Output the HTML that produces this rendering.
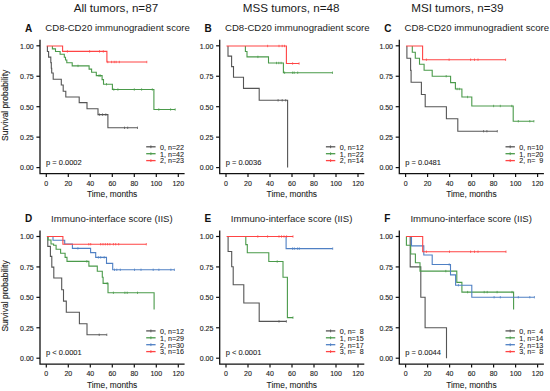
<!DOCTYPE html>
<html><head><meta charset="utf-8"><style>
html,body{margin:0;padding:0;background:#fff;width:550px;height:391px;overflow:hidden}
svg{display:block;font-family:"Liberation Sans", sans-serif}
</style></head><body>
<svg width="550" height="391" viewBox="0 0 550 391">
<rect width="550" height="391" fill="#fff"/>
<text x="115.90" y="11.80" font-size="11.65" text-anchor="middle" font-weight="normal" fill="#1a1a1a" >All tumors, n=87</text>
<text x="291.10" y="11.80" font-size="11.65" text-anchor="middle" font-weight="normal" fill="#1a1a1a" >MSS tumors, n=48</text>
<text x="457.30" y="11.80" font-size="11.65" text-anchor="middle" font-weight="normal" fill="#1a1a1a" >MSI tumors, n=39</text>
<text x="24.90" y="31.60" font-size="10" text-anchor="start" font-weight="bold" fill="#111" >A</text>
<text x="45.30" y="30.90" font-size="9.6" text-anchor="start" font-weight="normal" fill="#222" >CD8-CD20 immunogradient score</text>
<polyline points="47.40,46.00 47.40,51.50 48.60,51.50 48.60,57.10 50.80,57.10 50.80,62.60 51.30,62.60 51.30,68.20 51.70,68.20 51.70,73.00 53.20,73.00 53.20,79.20 61.30,79.20 61.30,85.00 63.20,85.00 63.20,91.30 65.80,91.30 65.80,97.00 79.20,97.00 79.20,102.60 87.00,102.60 87.00,108.70 98.00,108.70 98.00,114.60 107.90,114.60 107.90,127.80 137.50,127.80" fill="none" stroke="#555555" stroke-width="1.1"/>
<line x1="99.40" y1="113.40" x2="99.40" y2="115.80" stroke="#555555" stroke-width="0.75"/>
<line x1="102.50" y1="113.40" x2="102.50" y2="115.80" stroke="#555555" stroke-width="0.75"/>
<line x1="105.80" y1="113.40" x2="105.80" y2="115.80" stroke="#555555" stroke-width="0.75"/>
<line x1="124.50" y1="126.60" x2="124.50" y2="129.00" stroke="#555555" stroke-width="0.75"/>
<line x1="127.70" y1="126.60" x2="127.70" y2="129.00" stroke="#555555" stroke-width="0.75"/>
<line x1="137.50" y1="126.60" x2="137.50" y2="129.00" stroke="#555555" stroke-width="0.75"/>
<polyline points="52.40,46.00 52.40,48.90 55.50,48.90 55.50,51.50 60.10,51.50 60.10,54.30 64.30,54.30 64.30,57.20 65.50,57.20 65.50,60.00 66.80,60.00 66.80,62.80 72.20,62.80 72.20,65.90 89.10,65.90 89.10,69.10 91.60,69.10 91.60,72.20 96.30,72.20 96.30,75.60 102.10,75.60 102.10,79.60 103.50,79.60 103.50,84.20 112.40,84.20 112.40,89.50 153.90,89.50 153.90,109.50 175.20,109.50" fill="none" stroke="#4a9a4a" stroke-width="1.1"/>
<line x1="78.00" y1="64.70" x2="78.00" y2="67.10" stroke="#4a9a4a" stroke-width="0.75"/>
<line x1="99.00" y1="74.40" x2="99.00" y2="76.80" stroke="#4a9a4a" stroke-width="0.75"/>
<line x1="100.30" y1="74.40" x2="100.30" y2="76.80" stroke="#4a9a4a" stroke-width="0.75"/>
<line x1="106.50" y1="83.00" x2="106.50" y2="85.40" stroke="#4a9a4a" stroke-width="0.75"/>
<line x1="113.80" y1="88.30" x2="113.80" y2="90.70" stroke="#4a9a4a" stroke-width="0.75"/>
<line x1="117.90" y1="88.30" x2="117.90" y2="90.70" stroke="#4a9a4a" stroke-width="0.75"/>
<line x1="134.30" y1="88.30" x2="134.30" y2="90.70" stroke="#4a9a4a" stroke-width="0.75"/>
<line x1="141.60" y1="88.30" x2="141.60" y2="90.70" stroke="#4a9a4a" stroke-width="0.75"/>
<line x1="152.30" y1="88.30" x2="152.30" y2="90.70" stroke="#4a9a4a" stroke-width="0.75"/>
<line x1="158.80" y1="108.30" x2="158.80" y2="110.70" stroke="#4a9a4a" stroke-width="0.75"/>
<line x1="170.60" y1="108.30" x2="170.60" y2="110.70" stroke="#4a9a4a" stroke-width="0.75"/>
<line x1="175.20" y1="108.30" x2="175.20" y2="110.70" stroke="#4a9a4a" stroke-width="0.75"/>
<polyline points="46.70,46.00 62.60,46.00 62.60,51.40 106.90,51.40 106.90,62.00 146.80,62.00" fill="none" stroke="#ff4444" stroke-width="1.1"/>
<line x1="67.40" y1="50.20" x2="67.40" y2="52.60" stroke="#ff4444" stroke-width="0.75"/>
<line x1="89.60" y1="50.20" x2="89.60" y2="52.60" stroke="#ff4444" stroke-width="0.75"/>
<line x1="99.50" y1="50.20" x2="99.50" y2="52.60" stroke="#ff4444" stroke-width="0.75"/>
<line x1="103.30" y1="50.20" x2="103.30" y2="52.60" stroke="#ff4444" stroke-width="0.75"/>
<line x1="107.80" y1="60.80" x2="107.80" y2="63.20" stroke="#ff4444" stroke-width="0.75"/>
<line x1="111.60" y1="60.80" x2="111.60" y2="63.20" stroke="#ff4444" stroke-width="0.75"/>
<line x1="114.20" y1="60.80" x2="114.20" y2="63.20" stroke="#ff4444" stroke-width="0.75"/>
<line x1="116.10" y1="60.80" x2="116.10" y2="63.20" stroke="#ff4444" stroke-width="0.75"/>
<line x1="119.30" y1="60.80" x2="119.30" y2="63.20" stroke="#ff4444" stroke-width="0.75"/>
<line x1="146.80" y1="60.80" x2="146.80" y2="63.20" stroke="#ff4444" stroke-width="0.75"/>
<polyline points="40.00,39.80 40.00,173.60 184.60,173.60" fill="none" stroke="#111" stroke-width="1.3"/>
<line x1="36.40" y1="45.80" x2="40.00" y2="45.80" stroke="#111" stroke-width="1.2"/>
<text x="33.70" y="48.60" font-size="7.0" text-anchor="end" font-weight="normal" fill="#222" stroke="#222" stroke-width="0.12">1.00</text>
<line x1="36.40" y1="76.25" x2="40.00" y2="76.25" stroke="#111" stroke-width="1.2"/>
<text x="33.70" y="79.05" font-size="7.0" text-anchor="end" font-weight="normal" fill="#222" stroke="#222" stroke-width="0.12">0.75</text>
<line x1="36.40" y1="106.70" x2="40.00" y2="106.70" stroke="#111" stroke-width="1.2"/>
<text x="33.70" y="109.50" font-size="7.0" text-anchor="end" font-weight="normal" fill="#222" stroke="#222" stroke-width="0.12">0.50</text>
<line x1="36.40" y1="137.15" x2="40.00" y2="137.15" stroke="#111" stroke-width="1.2"/>
<text x="33.70" y="139.95" font-size="7.0" text-anchor="end" font-weight="normal" fill="#222" stroke="#222" stroke-width="0.12">0.25</text>
<line x1="36.40" y1="167.60" x2="40.00" y2="167.60" stroke="#111" stroke-width="1.2"/>
<text x="33.70" y="170.40" font-size="7.0" text-anchor="end" font-weight="normal" fill="#222" stroke="#222" stroke-width="0.12">0.00</text>
<line x1="46.30" y1="173.60" x2="46.30" y2="177.00" stroke="#111" stroke-width="1.2"/>
<text x="46.30" y="185.80" font-size="7.0" text-anchor="middle" font-weight="normal" fill="#222" stroke="#222" stroke-width="0.12">0</text>
<line x1="68.30" y1="173.60" x2="68.30" y2="177.00" stroke="#111" stroke-width="1.2"/>
<text x="68.30" y="185.80" font-size="7.0" text-anchor="middle" font-weight="normal" fill="#222" stroke="#222" stroke-width="0.12">20</text>
<line x1="90.30" y1="173.60" x2="90.30" y2="177.00" stroke="#111" stroke-width="1.2"/>
<text x="90.30" y="185.80" font-size="7.0" text-anchor="middle" font-weight="normal" fill="#222" stroke="#222" stroke-width="0.12">40</text>
<line x1="112.30" y1="173.60" x2="112.30" y2="177.00" stroke="#111" stroke-width="1.2"/>
<text x="112.30" y="185.80" font-size="7.0" text-anchor="middle" font-weight="normal" fill="#222" stroke="#222" stroke-width="0.12">60</text>
<line x1="134.30" y1="173.60" x2="134.30" y2="177.00" stroke="#111" stroke-width="1.2"/>
<text x="134.30" y="185.80" font-size="7.0" text-anchor="middle" font-weight="normal" fill="#222" stroke="#222" stroke-width="0.12">80</text>
<line x1="156.30" y1="173.60" x2="156.30" y2="177.00" stroke="#111" stroke-width="1.2"/>
<text x="156.30" y="185.80" font-size="7.0" text-anchor="middle" font-weight="normal" fill="#222" stroke="#222" stroke-width="0.12">100</text>
<line x1="178.30" y1="173.60" x2="178.30" y2="177.00" stroke="#111" stroke-width="1.2"/>
<text x="178.30" y="185.80" font-size="7.0" text-anchor="middle" font-weight="normal" fill="#222" stroke="#222" stroke-width="0.12">120</text>
<text x="112.10" y="197.30" font-size="8.4" text-anchor="middle" font-weight="normal" fill="#1a1a1a" stroke="#222" stroke-width="0.08">Time, months</text>
<text x="0" y="0" font-size="8.5" text-anchor="middle" fill="#222" stroke="#222" stroke-width="0.12" transform="translate(8.0,105.30) rotate(-90)">Survival probability</text>
<text x="46.00" y="164.80" font-size="7.5" text-anchor="start" font-weight="normal" fill="#222" stroke="#222" stroke-width="0.08">p = 0.0002</text>
<line x1="146.20" y1="146.80" x2="155.60" y2="146.80" stroke="#555555" stroke-width="1.3"/>
<line x1="150.90" y1="145.40" x2="150.90" y2="148.20" stroke="#555555" stroke-width="0.9"/>
<text x="160.00" y="149.60" font-size="7.15" text-anchor="start" font-weight="normal" fill="#222" stroke="#222" stroke-width="0.08">0, n=22</text>
<line x1="146.20" y1="153.70" x2="155.60" y2="153.70" stroke="#4a9a4a" stroke-width="1.3"/>
<line x1="150.90" y1="152.30" x2="150.90" y2="155.10" stroke="#4a9a4a" stroke-width="0.9"/>
<text x="160.00" y="156.50" font-size="7.15" text-anchor="start" font-weight="normal" fill="#222" stroke="#222" stroke-width="0.08">1, n=42</text>
<line x1="146.20" y1="160.60" x2="155.60" y2="160.60" stroke="#ff4444" stroke-width="1.3"/>
<line x1="150.90" y1="159.20" x2="150.90" y2="162.00" stroke="#ff4444" stroke-width="0.9"/>
<text x="160.00" y="163.40" font-size="7.15" text-anchor="start" font-weight="normal" fill="#222" stroke="#222" stroke-width="0.08">2, n=23</text>
<text x="204.60" y="31.60" font-size="10" text-anchor="start" font-weight="bold" fill="#111" >B</text>
<text x="225.00" y="30.90" font-size="9.6" text-anchor="start" font-weight="normal" fill="#222" >CD8-CD20 immunogradient score</text>
<polyline points="228.00,46.00 228.00,56.10 231.60,56.10 231.60,66.60 233.50,66.60 233.50,77.20 243.50,77.20 243.50,88.40 259.20,88.40 259.20,100.30 287.60,100.30 287.60,167.60 287.60,167.60" fill="none" stroke="#555555" stroke-width="1.1"/>
<line x1="278.10" y1="99.10" x2="278.10" y2="101.50" stroke="#555555" stroke-width="0.75"/>
<line x1="282.20" y1="99.10" x2="282.20" y2="101.50" stroke="#555555" stroke-width="0.75"/>
<line x1="285.70" y1="99.10" x2="285.70" y2="101.50" stroke="#555555" stroke-width="0.75"/>
<polyline points="245.40,46.00 245.40,51.50 247.00,51.50 247.00,56.90 268.50,56.90 268.50,63.00 283.40,63.00 283.40,72.70 332.50,72.70" fill="none" stroke="#4a9a4a" stroke-width="1.1"/>
<line x1="257.90" y1="55.70" x2="257.90" y2="58.10" stroke="#4a9a4a" stroke-width="0.75"/>
<line x1="276.50" y1="61.80" x2="276.50" y2="64.20" stroke="#4a9a4a" stroke-width="0.75"/>
<line x1="278.80" y1="61.80" x2="278.80" y2="64.20" stroke="#4a9a4a" stroke-width="0.75"/>
<line x1="281.10" y1="61.80" x2="281.10" y2="64.20" stroke="#4a9a4a" stroke-width="0.75"/>
<line x1="284.60" y1="71.50" x2="284.60" y2="73.90" stroke="#4a9a4a" stroke-width="0.75"/>
<line x1="292.60" y1="71.50" x2="292.60" y2="73.90" stroke="#4a9a4a" stroke-width="0.75"/>
<line x1="294.20" y1="71.50" x2="294.20" y2="73.90" stroke="#4a9a4a" stroke-width="0.75"/>
<line x1="297.70" y1="71.50" x2="297.70" y2="73.90" stroke="#4a9a4a" stroke-width="0.75"/>
<line x1="332.50" y1="71.50" x2="332.50" y2="73.90" stroke="#4a9a4a" stroke-width="0.75"/>
<polyline points="226.50,46.00 286.40,46.00 286.40,63.50 299.10,63.50" fill="none" stroke="#ff4444" stroke-width="1.1"/>
<line x1="267.60" y1="44.80" x2="267.60" y2="47.20" stroke="#ff4444" stroke-width="0.75"/>
<line x1="279.00" y1="44.80" x2="279.00" y2="47.20" stroke="#ff4444" stroke-width="0.75"/>
<line x1="282.20" y1="44.80" x2="282.20" y2="47.20" stroke="#ff4444" stroke-width="0.75"/>
<line x1="284.50" y1="44.80" x2="284.50" y2="47.20" stroke="#ff4444" stroke-width="0.75"/>
<line x1="292.60" y1="62.30" x2="292.60" y2="64.70" stroke="#ff4444" stroke-width="0.75"/>
<line x1="299.10" y1="62.30" x2="299.10" y2="64.70" stroke="#ff4444" stroke-width="0.75"/>
<polyline points="219.70,39.80 219.70,173.60 364.30,173.60" fill="none" stroke="#111" stroke-width="1.3"/>
<line x1="216.10" y1="45.80" x2="219.70" y2="45.80" stroke="#111" stroke-width="1.2"/>
<text x="213.40" y="48.60" font-size="7.0" text-anchor="end" font-weight="normal" fill="#222" stroke="#222" stroke-width="0.12">1.00</text>
<line x1="216.10" y1="76.25" x2="219.70" y2="76.25" stroke="#111" stroke-width="1.2"/>
<text x="213.40" y="79.05" font-size="7.0" text-anchor="end" font-weight="normal" fill="#222" stroke="#222" stroke-width="0.12">0.75</text>
<line x1="216.10" y1="106.70" x2="219.70" y2="106.70" stroke="#111" stroke-width="1.2"/>
<text x="213.40" y="109.50" font-size="7.0" text-anchor="end" font-weight="normal" fill="#222" stroke="#222" stroke-width="0.12">0.50</text>
<line x1="216.10" y1="137.15" x2="219.70" y2="137.15" stroke="#111" stroke-width="1.2"/>
<text x="213.40" y="139.95" font-size="7.0" text-anchor="end" font-weight="normal" fill="#222" stroke="#222" stroke-width="0.12">0.25</text>
<line x1="216.10" y1="167.60" x2="219.70" y2="167.60" stroke="#111" stroke-width="1.2"/>
<text x="213.40" y="170.40" font-size="7.0" text-anchor="end" font-weight="normal" fill="#222" stroke="#222" stroke-width="0.12">0.00</text>
<line x1="226.00" y1="173.60" x2="226.00" y2="177.00" stroke="#111" stroke-width="1.2"/>
<text x="226.00" y="185.80" font-size="7.0" text-anchor="middle" font-weight="normal" fill="#222" stroke="#222" stroke-width="0.12">0</text>
<line x1="248.00" y1="173.60" x2="248.00" y2="177.00" stroke="#111" stroke-width="1.2"/>
<text x="248.00" y="185.80" font-size="7.0" text-anchor="middle" font-weight="normal" fill="#222" stroke="#222" stroke-width="0.12">20</text>
<line x1="270.00" y1="173.60" x2="270.00" y2="177.00" stroke="#111" stroke-width="1.2"/>
<text x="270.00" y="185.80" font-size="7.0" text-anchor="middle" font-weight="normal" fill="#222" stroke="#222" stroke-width="0.12">40</text>
<line x1="292.00" y1="173.60" x2="292.00" y2="177.00" stroke="#111" stroke-width="1.2"/>
<text x="292.00" y="185.80" font-size="7.0" text-anchor="middle" font-weight="normal" fill="#222" stroke="#222" stroke-width="0.12">60</text>
<line x1="314.00" y1="173.60" x2="314.00" y2="177.00" stroke="#111" stroke-width="1.2"/>
<text x="314.00" y="185.80" font-size="7.0" text-anchor="middle" font-weight="normal" fill="#222" stroke="#222" stroke-width="0.12">80</text>
<line x1="336.00" y1="173.60" x2="336.00" y2="177.00" stroke="#111" stroke-width="1.2"/>
<text x="336.00" y="185.80" font-size="7.0" text-anchor="middle" font-weight="normal" fill="#222" stroke="#222" stroke-width="0.12">100</text>
<line x1="358.00" y1="173.60" x2="358.00" y2="177.00" stroke="#111" stroke-width="1.2"/>
<text x="358.00" y="185.80" font-size="7.0" text-anchor="middle" font-weight="normal" fill="#222" stroke="#222" stroke-width="0.12">120</text>
<text x="291.80" y="197.30" font-size="8.4" text-anchor="middle" font-weight="normal" fill="#1a1a1a" stroke="#222" stroke-width="0.08">Time, months</text>
<text x="225.70" y="164.80" font-size="7.5" text-anchor="start" font-weight="normal" fill="#222" stroke="#222" stroke-width="0.08">p = 0.0036</text>
<line x1="325.90" y1="146.80" x2="335.30" y2="146.80" stroke="#555555" stroke-width="1.3"/>
<line x1="330.60" y1="145.40" x2="330.60" y2="148.20" stroke="#555555" stroke-width="0.9"/>
<text x="339.70" y="149.60" font-size="7.15" text-anchor="start" font-weight="normal" fill="#222" stroke="#222" stroke-width="0.08">0, n=12</text>
<line x1="325.90" y1="153.70" x2="335.30" y2="153.70" stroke="#4a9a4a" stroke-width="1.3"/>
<line x1="330.60" y1="152.30" x2="330.60" y2="155.10" stroke="#4a9a4a" stroke-width="0.9"/>
<text x="339.70" y="156.50" font-size="7.15" text-anchor="start" font-weight="normal" fill="#222" stroke="#222" stroke-width="0.08">1, n=22</text>
<line x1="325.90" y1="160.60" x2="335.30" y2="160.60" stroke="#ff4444" stroke-width="1.3"/>
<line x1="330.60" y1="159.20" x2="330.60" y2="162.00" stroke="#ff4444" stroke-width="0.9"/>
<text x="339.70" y="163.40" font-size="7.15" text-anchor="start" font-weight="normal" fill="#222" stroke="#222" stroke-width="0.08">2, n=14</text>
<text x="384.20" y="31.60" font-size="10" text-anchor="start" font-weight="bold" fill="#111" >C</text>
<text x="404.60" y="30.90" font-size="9.6" text-anchor="start" font-weight="normal" fill="#222" >CD8-CD20 immunogradient score</text>
<polyline points="406.90,46.00 406.90,58.30 410.60,58.30 410.60,70.40 411.10,70.40 411.10,82.30 421.40,82.30 421.40,94.50 425.20,94.50 425.20,106.70 446.40,106.70 446.40,118.80 457.80,118.80 457.80,131.20 497.30,131.20" fill="none" stroke="#555555" stroke-width="1.1"/>
<line x1="483.60" y1="130.00" x2="483.60" y2="132.40" stroke="#555555" stroke-width="0.75"/>
<line x1="486.90" y1="130.00" x2="486.90" y2="132.40" stroke="#555555" stroke-width="0.75"/>
<line x1="497.30" y1="130.00" x2="497.30" y2="132.40" stroke="#555555" stroke-width="0.75"/>
<polyline points="412.30,46.00 412.30,52.20 415.30,52.20 415.30,58.20 419.50,58.20 419.50,64.20 424.10,64.20 424.10,70.20 432.20,70.20 432.20,76.20 450.60,76.20 450.60,82.60 455.40,82.60 455.40,89.00 461.90,89.00 461.90,97.00 471.80,97.00 471.80,106.00 513.20,106.00 513.20,121.20 533.90,121.20" fill="none" stroke="#4a9a4a" stroke-width="1.1"/>
<line x1="446.20" y1="75.00" x2="446.20" y2="77.40" stroke="#4a9a4a" stroke-width="0.75"/>
<line x1="457.10" y1="87.80" x2="457.10" y2="90.20" stroke="#4a9a4a" stroke-width="0.75"/>
<line x1="459.30" y1="87.80" x2="459.30" y2="90.20" stroke="#4a9a4a" stroke-width="0.75"/>
<line x1="467.60" y1="95.80" x2="467.60" y2="98.20" stroke="#4a9a4a" stroke-width="0.75"/>
<line x1="493.60" y1="104.80" x2="493.60" y2="107.20" stroke="#4a9a4a" stroke-width="0.75"/>
<line x1="500.30" y1="104.80" x2="500.30" y2="107.20" stroke="#4a9a4a" stroke-width="0.75"/>
<line x1="511.80" y1="104.80" x2="511.80" y2="107.20" stroke="#4a9a4a" stroke-width="0.75"/>
<line x1="518.30" y1="120.00" x2="518.30" y2="122.40" stroke="#4a9a4a" stroke-width="0.75"/>
<line x1="529.80" y1="120.00" x2="529.80" y2="122.40" stroke="#4a9a4a" stroke-width="0.75"/>
<line x1="533.90" y1="120.00" x2="533.90" y2="122.40" stroke="#4a9a4a" stroke-width="0.75"/>
<polyline points="406.10,46.00 422.60,46.00 422.60,59.70 505.60,59.70" fill="none" stroke="#ff4444" stroke-width="1.1"/>
<line x1="426.40" y1="58.50" x2="426.40" y2="60.90" stroke="#ff4444" stroke-width="0.75"/>
<line x1="449.10" y1="58.50" x2="449.10" y2="60.90" stroke="#ff4444" stroke-width="0.75"/>
<line x1="470.60" y1="58.50" x2="470.60" y2="60.90" stroke="#ff4444" stroke-width="0.75"/>
<line x1="474.50" y1="58.50" x2="474.50" y2="60.90" stroke="#ff4444" stroke-width="0.75"/>
<line x1="478.00" y1="58.50" x2="478.00" y2="60.90" stroke="#ff4444" stroke-width="0.75"/>
<line x1="505.60" y1="58.50" x2="505.60" y2="60.90" stroke="#ff4444" stroke-width="0.75"/>
<polyline points="399.30,39.80 399.30,173.60 543.90,173.60" fill="none" stroke="#111" stroke-width="1.3"/>
<line x1="395.70" y1="45.80" x2="399.30" y2="45.80" stroke="#111" stroke-width="1.2"/>
<text x="393.00" y="48.60" font-size="7.0" text-anchor="end" font-weight="normal" fill="#222" stroke="#222" stroke-width="0.12">1.00</text>
<line x1="395.70" y1="76.25" x2="399.30" y2="76.25" stroke="#111" stroke-width="1.2"/>
<text x="393.00" y="79.05" font-size="7.0" text-anchor="end" font-weight="normal" fill="#222" stroke="#222" stroke-width="0.12">0.75</text>
<line x1="395.70" y1="106.70" x2="399.30" y2="106.70" stroke="#111" stroke-width="1.2"/>
<text x="393.00" y="109.50" font-size="7.0" text-anchor="end" font-weight="normal" fill="#222" stroke="#222" stroke-width="0.12">0.50</text>
<line x1="395.70" y1="137.15" x2="399.30" y2="137.15" stroke="#111" stroke-width="1.2"/>
<text x="393.00" y="139.95" font-size="7.0" text-anchor="end" font-weight="normal" fill="#222" stroke="#222" stroke-width="0.12">0.25</text>
<line x1="395.70" y1="167.60" x2="399.30" y2="167.60" stroke="#111" stroke-width="1.2"/>
<text x="393.00" y="170.40" font-size="7.0" text-anchor="end" font-weight="normal" fill="#222" stroke="#222" stroke-width="0.12">0.00</text>
<line x1="405.60" y1="173.60" x2="405.60" y2="177.00" stroke="#111" stroke-width="1.2"/>
<text x="405.60" y="185.80" font-size="7.0" text-anchor="middle" font-weight="normal" fill="#222" stroke="#222" stroke-width="0.12">0</text>
<line x1="427.60" y1="173.60" x2="427.60" y2="177.00" stroke="#111" stroke-width="1.2"/>
<text x="427.60" y="185.80" font-size="7.0" text-anchor="middle" font-weight="normal" fill="#222" stroke="#222" stroke-width="0.12">20</text>
<line x1="449.60" y1="173.60" x2="449.60" y2="177.00" stroke="#111" stroke-width="1.2"/>
<text x="449.60" y="185.80" font-size="7.0" text-anchor="middle" font-weight="normal" fill="#222" stroke="#222" stroke-width="0.12">40</text>
<line x1="471.60" y1="173.60" x2="471.60" y2="177.00" stroke="#111" stroke-width="1.2"/>
<text x="471.60" y="185.80" font-size="7.0" text-anchor="middle" font-weight="normal" fill="#222" stroke="#222" stroke-width="0.12">60</text>
<line x1="493.60" y1="173.60" x2="493.60" y2="177.00" stroke="#111" stroke-width="1.2"/>
<text x="493.60" y="185.80" font-size="7.0" text-anchor="middle" font-weight="normal" fill="#222" stroke="#222" stroke-width="0.12">80</text>
<line x1="515.60" y1="173.60" x2="515.60" y2="177.00" stroke="#111" stroke-width="1.2"/>
<text x="515.60" y="185.80" font-size="7.0" text-anchor="middle" font-weight="normal" fill="#222" stroke="#222" stroke-width="0.12">100</text>
<line x1="537.60" y1="173.60" x2="537.60" y2="177.00" stroke="#111" stroke-width="1.2"/>
<text x="537.60" y="185.80" font-size="7.0" text-anchor="middle" font-weight="normal" fill="#222" stroke="#222" stroke-width="0.12">120</text>
<text x="471.40" y="197.30" font-size="8.4" text-anchor="middle" font-weight="normal" fill="#1a1a1a" stroke="#222" stroke-width="0.08">Time, months</text>
<text x="405.30" y="164.80" font-size="7.5" text-anchor="start" font-weight="normal" fill="#222" stroke="#222" stroke-width="0.08">p = 0.0481</text>
<line x1="505.50" y1="146.80" x2="514.90" y2="146.80" stroke="#555555" stroke-width="1.3"/>
<line x1="510.20" y1="145.40" x2="510.20" y2="148.20" stroke="#555555" stroke-width="0.9"/>
<text x="519.30" y="149.60" font-size="7.15" text-anchor="start" font-weight="normal" fill="#222" stroke="#222" stroke-width="0.08">0, n=10</text>
<line x1="505.50" y1="153.70" x2="514.90" y2="153.70" stroke="#4a9a4a" stroke-width="1.3"/>
<line x1="510.20" y1="152.30" x2="510.20" y2="155.10" stroke="#4a9a4a" stroke-width="0.9"/>
<text x="519.30" y="156.50" font-size="7.15" text-anchor="start" font-weight="normal" fill="#222" stroke="#222" stroke-width="0.08">1, n=20</text>
<line x1="505.50" y1="160.60" x2="514.90" y2="160.60" stroke="#ff4444" stroke-width="1.3"/>
<line x1="510.20" y1="159.20" x2="510.20" y2="162.00" stroke="#ff4444" stroke-width="0.9"/>
<text x="519.30" y="163.40" font-size="7.15" text-anchor="start" font-weight="normal" fill="#222" stroke="#222" stroke-width="0.08">2, n=&#160; 9</text>
<text x="24.90" y="222.30" font-size="10" text-anchor="start" font-weight="bold" fill="#111" >D</text>
<text x="51.10" y="221.60" font-size="9.6" text-anchor="start" font-weight="normal" fill="#222" >Immuno-interface score (IIS)</text>
<polyline points="47.80,236.50 47.80,246.40 50.40,246.40 50.40,256.40 51.80,256.40 51.80,267.10 53.80,267.10 53.80,278.00 61.70,278.00 61.70,289.70 63.50,289.70 63.50,301.10 66.30,301.10 66.30,312.30 79.40,312.30 79.40,323.70 87.00,323.70 87.00,334.80 106.80,334.80" fill="none" stroke="#555555" stroke-width="1.1"/>
<line x1="99.20" y1="333.60" x2="99.20" y2="336.00" stroke="#555555" stroke-width="0.75"/>
<line x1="106.80" y1="333.60" x2="106.80" y2="336.00" stroke="#555555" stroke-width="0.75"/>
<polyline points="48.10,236.50 48.10,240.00 51.00,240.00 51.00,244.00 53.60,244.00 53.60,245.20 56.10,245.20 56.10,249.20 60.60,249.20 60.60,253.30 65.10,253.30 65.10,257.40 67.00,257.40 67.00,261.40 88.90,261.40 88.90,266.10 97.30,266.10 97.30,271.30 102.30,271.30 102.30,277.20 103.10,277.20 103.10,283.40 108.00,283.40 108.00,292.80 154.10,292.80 154.10,309.40 154.10,309.40" fill="none" stroke="#4a9a4a" stroke-width="1.1"/>
<line x1="86.80" y1="260.20" x2="86.80" y2="262.60" stroke="#4a9a4a" stroke-width="0.75"/>
<line x1="107.20" y1="282.20" x2="107.20" y2="284.60" stroke="#4a9a4a" stroke-width="0.75"/>
<line x1="113.40" y1="291.60" x2="113.40" y2="294.00" stroke="#4a9a4a" stroke-width="0.75"/>
<line x1="124.90" y1="291.60" x2="124.90" y2="294.00" stroke="#4a9a4a" stroke-width="0.75"/>
<line x1="127.20" y1="291.60" x2="127.20" y2="294.00" stroke="#4a9a4a" stroke-width="0.75"/>
<line x1="137.50" y1="291.60" x2="137.50" y2="294.00" stroke="#4a9a4a" stroke-width="0.75"/>
<polyline points="53.00,236.50 53.00,240.30 64.70,240.30 64.70,244.00 72.40,244.00 72.40,248.40 90.60,248.40 90.60,252.60 95.70,252.60 95.70,257.40 106.50,257.40 106.50,263.40 112.70,263.40 112.70,269.80 174.40,269.80" fill="none" stroke="#4f80c4" stroke-width="1.1"/>
<line x1="77.90" y1="247.20" x2="77.90" y2="249.60" stroke="#4f80c4" stroke-width="0.75"/>
<line x1="98.40" y1="256.20" x2="98.40" y2="258.60" stroke="#4f80c4" stroke-width="0.75"/>
<line x1="100.70" y1="256.20" x2="100.70" y2="258.60" stroke="#4f80c4" stroke-width="0.75"/>
<line x1="104.20" y1="256.20" x2="104.20" y2="258.60" stroke="#4f80c4" stroke-width="0.75"/>
<line x1="114.50" y1="268.60" x2="114.50" y2="271.00" stroke="#4f80c4" stroke-width="0.75"/>
<line x1="116.80" y1="268.60" x2="116.80" y2="271.00" stroke="#4f80c4" stroke-width="0.75"/>
<line x1="120.30" y1="268.60" x2="120.30" y2="271.00" stroke="#4f80c4" stroke-width="0.75"/>
<line x1="134.50" y1="268.60" x2="134.50" y2="271.00" stroke="#4f80c4" stroke-width="0.75"/>
<line x1="141.00" y1="268.60" x2="141.00" y2="271.00" stroke="#4f80c4" stroke-width="0.75"/>
<line x1="153.20" y1="268.60" x2="153.20" y2="271.00" stroke="#4f80c4" stroke-width="0.75"/>
<line x1="158.90" y1="268.60" x2="158.90" y2="271.00" stroke="#4f80c4" stroke-width="0.75"/>
<line x1="170.90" y1="268.60" x2="170.90" y2="271.00" stroke="#4f80c4" stroke-width="0.75"/>
<line x1="174.40" y1="268.60" x2="174.40" y2="271.00" stroke="#4f80c4" stroke-width="0.75"/>
<polyline points="46.80,236.50 62.90,236.50 62.90,244.20 146.30,244.20" fill="none" stroke="#ff4444" stroke-width="1.1"/>
<line x1="88.80" y1="243.00" x2="88.80" y2="245.40" stroke="#ff4444" stroke-width="0.75"/>
<line x1="90.70" y1="243.00" x2="90.70" y2="245.40" stroke="#ff4444" stroke-width="0.75"/>
<line x1="100.70" y1="243.00" x2="100.70" y2="245.40" stroke="#ff4444" stroke-width="0.75"/>
<line x1="103.00" y1="243.00" x2="103.00" y2="245.40" stroke="#ff4444" stroke-width="0.75"/>
<line x1="105.30" y1="243.00" x2="105.30" y2="245.40" stroke="#ff4444" stroke-width="0.75"/>
<line x1="107.60" y1="243.00" x2="107.60" y2="245.40" stroke="#ff4444" stroke-width="0.75"/>
<line x1="109.90" y1="243.00" x2="109.90" y2="245.40" stroke="#ff4444" stroke-width="0.75"/>
<line x1="113.40" y1="243.00" x2="113.40" y2="245.40" stroke="#ff4444" stroke-width="0.75"/>
<line x1="115.70" y1="243.00" x2="115.70" y2="245.40" stroke="#ff4444" stroke-width="0.75"/>
<line x1="118.70" y1="243.00" x2="118.70" y2="245.40" stroke="#ff4444" stroke-width="0.75"/>
<line x1="146.30" y1="243.00" x2="146.30" y2="245.40" stroke="#ff4444" stroke-width="0.75"/>
<polyline points="40.00,230.50 40.00,364.20 184.60,364.20" fill="none" stroke="#111" stroke-width="1.3"/>
<line x1="36.40" y1="236.50" x2="40.00" y2="236.50" stroke="#111" stroke-width="1.2"/>
<text x="33.70" y="239.30" font-size="7.0" text-anchor="end" font-weight="normal" fill="#222" stroke="#222" stroke-width="0.12">1.00</text>
<line x1="36.40" y1="266.93" x2="40.00" y2="266.93" stroke="#111" stroke-width="1.2"/>
<text x="33.70" y="269.73" font-size="7.0" text-anchor="end" font-weight="normal" fill="#222" stroke="#222" stroke-width="0.12">0.75</text>
<line x1="36.40" y1="297.35" x2="40.00" y2="297.35" stroke="#111" stroke-width="1.2"/>
<text x="33.70" y="300.15" font-size="7.0" text-anchor="end" font-weight="normal" fill="#222" stroke="#222" stroke-width="0.12">0.50</text>
<line x1="36.40" y1="327.77" x2="40.00" y2="327.77" stroke="#111" stroke-width="1.2"/>
<text x="33.70" y="330.57" font-size="7.0" text-anchor="end" font-weight="normal" fill="#222" stroke="#222" stroke-width="0.12">0.25</text>
<line x1="36.40" y1="358.20" x2="40.00" y2="358.20" stroke="#111" stroke-width="1.2"/>
<text x="33.70" y="361.00" font-size="7.0" text-anchor="end" font-weight="normal" fill="#222" stroke="#222" stroke-width="0.12">0.00</text>
<line x1="46.30" y1="364.20" x2="46.30" y2="367.60" stroke="#111" stroke-width="1.2"/>
<text x="46.30" y="376.40" font-size="7.0" text-anchor="middle" font-weight="normal" fill="#222" stroke="#222" stroke-width="0.12">0</text>
<line x1="68.30" y1="364.20" x2="68.30" y2="367.60" stroke="#111" stroke-width="1.2"/>
<text x="68.30" y="376.40" font-size="7.0" text-anchor="middle" font-weight="normal" fill="#222" stroke="#222" stroke-width="0.12">20</text>
<line x1="90.30" y1="364.20" x2="90.30" y2="367.60" stroke="#111" stroke-width="1.2"/>
<text x="90.30" y="376.40" font-size="7.0" text-anchor="middle" font-weight="normal" fill="#222" stroke="#222" stroke-width="0.12">40</text>
<line x1="112.30" y1="364.20" x2="112.30" y2="367.60" stroke="#111" stroke-width="1.2"/>
<text x="112.30" y="376.40" font-size="7.0" text-anchor="middle" font-weight="normal" fill="#222" stroke="#222" stroke-width="0.12">60</text>
<line x1="134.30" y1="364.20" x2="134.30" y2="367.60" stroke="#111" stroke-width="1.2"/>
<text x="134.30" y="376.40" font-size="7.0" text-anchor="middle" font-weight="normal" fill="#222" stroke="#222" stroke-width="0.12">80</text>
<line x1="156.30" y1="364.20" x2="156.30" y2="367.60" stroke="#111" stroke-width="1.2"/>
<text x="156.30" y="376.40" font-size="7.0" text-anchor="middle" font-weight="normal" fill="#222" stroke="#222" stroke-width="0.12">100</text>
<line x1="178.30" y1="364.20" x2="178.30" y2="367.60" stroke="#111" stroke-width="1.2"/>
<text x="178.30" y="376.40" font-size="7.0" text-anchor="middle" font-weight="normal" fill="#222" stroke="#222" stroke-width="0.12">120</text>
<text x="112.10" y="387.90" font-size="8.4" text-anchor="middle" font-weight="normal" fill="#1a1a1a" stroke="#222" stroke-width="0.08">Time, months</text>
<text x="0" y="0" font-size="8.5" text-anchor="middle" fill="#222" stroke="#222" stroke-width="0.12" transform="translate(8.0,295.95) rotate(-90)">Survival probability</text>
<text x="46.00" y="355.40" font-size="7.5" text-anchor="start" font-weight="normal" fill="#222" stroke="#222" stroke-width="0.08">p &lt; 0.0001</text>
<line x1="146.20" y1="330.90" x2="155.60" y2="330.90" stroke="#555555" stroke-width="1.3"/>
<line x1="150.90" y1="329.50" x2="150.90" y2="332.30" stroke="#555555" stroke-width="0.9"/>
<text x="160.00" y="333.70" font-size="7.15" text-anchor="start" font-weight="normal" fill="#222" stroke="#222" stroke-width="0.08">0, n=12</text>
<line x1="146.20" y1="337.80" x2="155.60" y2="337.80" stroke="#4a9a4a" stroke-width="1.3"/>
<line x1="150.90" y1="336.40" x2="150.90" y2="339.20" stroke="#4a9a4a" stroke-width="0.9"/>
<text x="160.00" y="340.60" font-size="7.15" text-anchor="start" font-weight="normal" fill="#222" stroke="#222" stroke-width="0.08">1, n=29</text>
<line x1="146.20" y1="344.70" x2="155.60" y2="344.70" stroke="#4f80c4" stroke-width="1.3"/>
<line x1="150.90" y1="343.30" x2="150.90" y2="346.10" stroke="#4f80c4" stroke-width="0.9"/>
<text x="160.00" y="347.50" font-size="7.15" text-anchor="start" font-weight="normal" fill="#222" stroke="#222" stroke-width="0.08">2, n=30</text>
<line x1="146.20" y1="351.60" x2="155.60" y2="351.60" stroke="#ff4444" stroke-width="1.3"/>
<line x1="150.90" y1="350.20" x2="150.90" y2="353.00" stroke="#ff4444" stroke-width="0.9"/>
<text x="160.00" y="354.40" font-size="7.15" text-anchor="start" font-weight="normal" fill="#222" stroke="#222" stroke-width="0.08">3, n=16</text>
<text x="204.60" y="222.30" font-size="10" text-anchor="start" font-weight="bold" fill="#111" >E</text>
<text x="230.80" y="221.60" font-size="9.6" text-anchor="start" font-weight="normal" fill="#222" >Immuno-interface score (IIS)</text>
<polyline points="228.10,236.50 228.10,251.50 231.70,251.50 231.70,266.80 233.20,266.80 233.20,284.70 243.80,284.70 243.80,303.00 259.20,303.00 259.20,321.40 286.40,321.40" fill="none" stroke="#555555" stroke-width="1.1"/>
<line x1="279.00" y1="320.20" x2="279.00" y2="322.60" stroke="#555555" stroke-width="0.75"/>
<line x1="286.40" y1="320.20" x2="286.40" y2="322.60" stroke="#555555" stroke-width="0.75"/>
<polyline points="245.80,236.50 245.80,244.60 247.30,244.60 247.30,252.80 268.80,252.80 268.80,261.50 283.00,261.50 283.00,277.30 287.40,277.30 287.40,317.60 293.00,317.60" fill="none" stroke="#4a9a4a" stroke-width="1.1"/>
<line x1="277.20" y1="260.30" x2="277.20" y2="262.70" stroke="#4a9a4a" stroke-width="0.75"/>
<line x1="293.00" y1="316.40" x2="293.00" y2="318.80" stroke="#4a9a4a" stroke-width="0.75"/>
<polyline points="286.10,236.50 286.10,248.60 332.70,248.60" fill="none" stroke="#4f80c4" stroke-width="1.1"/>
<line x1="292.50" y1="247.40" x2="292.50" y2="249.80" stroke="#4f80c4" stroke-width="0.75"/>
<line x1="294.30" y1="247.40" x2="294.30" y2="249.80" stroke="#4f80c4" stroke-width="0.75"/>
<line x1="297.60" y1="247.40" x2="297.60" y2="249.80" stroke="#4f80c4" stroke-width="0.75"/>
<line x1="299.40" y1="247.40" x2="299.40" y2="249.80" stroke="#4f80c4" stroke-width="0.75"/>
<line x1="332.70" y1="247.40" x2="332.70" y2="249.80" stroke="#4f80c4" stroke-width="0.75"/>
<polyline points="226.60,236.50 293.00,236.50" fill="none" stroke="#ff4444" stroke-width="1.1"/>
<line x1="257.80" y1="235.30" x2="257.80" y2="237.70" stroke="#ff4444" stroke-width="0.75"/>
<line x1="267.60" y1="235.30" x2="267.60" y2="237.70" stroke="#ff4444" stroke-width="0.75"/>
<line x1="279.00" y1="235.30" x2="279.00" y2="237.70" stroke="#ff4444" stroke-width="0.75"/>
<line x1="281.50" y1="235.30" x2="281.50" y2="237.70" stroke="#ff4444" stroke-width="0.75"/>
<line x1="284.00" y1="235.30" x2="284.00" y2="237.70" stroke="#ff4444" stroke-width="0.75"/>
<line x1="286.60" y1="235.30" x2="286.60" y2="237.70" stroke="#ff4444" stroke-width="0.75"/>
<line x1="293.00" y1="235.30" x2="293.00" y2="237.70" stroke="#ff4444" stroke-width="0.75"/>
<polyline points="219.70,230.50 219.70,364.20 364.30,364.20" fill="none" stroke="#111" stroke-width="1.3"/>
<line x1="216.10" y1="236.50" x2="219.70" y2="236.50" stroke="#111" stroke-width="1.2"/>
<text x="213.40" y="239.30" font-size="7.0" text-anchor="end" font-weight="normal" fill="#222" stroke="#222" stroke-width="0.12">1.00</text>
<line x1="216.10" y1="266.93" x2="219.70" y2="266.93" stroke="#111" stroke-width="1.2"/>
<text x="213.40" y="269.73" font-size="7.0" text-anchor="end" font-weight="normal" fill="#222" stroke="#222" stroke-width="0.12">0.75</text>
<line x1="216.10" y1="297.35" x2="219.70" y2="297.35" stroke="#111" stroke-width="1.2"/>
<text x="213.40" y="300.15" font-size="7.0" text-anchor="end" font-weight="normal" fill="#222" stroke="#222" stroke-width="0.12">0.50</text>
<line x1="216.10" y1="327.77" x2="219.70" y2="327.77" stroke="#111" stroke-width="1.2"/>
<text x="213.40" y="330.57" font-size="7.0" text-anchor="end" font-weight="normal" fill="#222" stroke="#222" stroke-width="0.12">0.25</text>
<line x1="216.10" y1="358.20" x2="219.70" y2="358.20" stroke="#111" stroke-width="1.2"/>
<text x="213.40" y="361.00" font-size="7.0" text-anchor="end" font-weight="normal" fill="#222" stroke="#222" stroke-width="0.12">0.00</text>
<line x1="226.00" y1="364.20" x2="226.00" y2="367.60" stroke="#111" stroke-width="1.2"/>
<text x="226.00" y="376.40" font-size="7.0" text-anchor="middle" font-weight="normal" fill="#222" stroke="#222" stroke-width="0.12">0</text>
<line x1="248.00" y1="364.20" x2="248.00" y2="367.60" stroke="#111" stroke-width="1.2"/>
<text x="248.00" y="376.40" font-size="7.0" text-anchor="middle" font-weight="normal" fill="#222" stroke="#222" stroke-width="0.12">20</text>
<line x1="270.00" y1="364.20" x2="270.00" y2="367.60" stroke="#111" stroke-width="1.2"/>
<text x="270.00" y="376.40" font-size="7.0" text-anchor="middle" font-weight="normal" fill="#222" stroke="#222" stroke-width="0.12">40</text>
<line x1="292.00" y1="364.20" x2="292.00" y2="367.60" stroke="#111" stroke-width="1.2"/>
<text x="292.00" y="376.40" font-size="7.0" text-anchor="middle" font-weight="normal" fill="#222" stroke="#222" stroke-width="0.12">60</text>
<line x1="314.00" y1="364.20" x2="314.00" y2="367.60" stroke="#111" stroke-width="1.2"/>
<text x="314.00" y="376.40" font-size="7.0" text-anchor="middle" font-weight="normal" fill="#222" stroke="#222" stroke-width="0.12">80</text>
<line x1="336.00" y1="364.20" x2="336.00" y2="367.60" stroke="#111" stroke-width="1.2"/>
<text x="336.00" y="376.40" font-size="7.0" text-anchor="middle" font-weight="normal" fill="#222" stroke="#222" stroke-width="0.12">100</text>
<line x1="358.00" y1="364.20" x2="358.00" y2="367.60" stroke="#111" stroke-width="1.2"/>
<text x="358.00" y="376.40" font-size="7.0" text-anchor="middle" font-weight="normal" fill="#222" stroke="#222" stroke-width="0.12">120</text>
<text x="291.80" y="387.90" font-size="8.4" text-anchor="middle" font-weight="normal" fill="#1a1a1a" stroke="#222" stroke-width="0.08">Time, months</text>
<text x="225.70" y="355.40" font-size="7.5" text-anchor="start" font-weight="normal" fill="#222" stroke="#222" stroke-width="0.08">p &lt; 0.0001</text>
<line x1="325.90" y1="330.90" x2="335.30" y2="330.90" stroke="#555555" stroke-width="1.3"/>
<line x1="330.60" y1="329.50" x2="330.60" y2="332.30" stroke="#555555" stroke-width="0.9"/>
<text x="339.70" y="333.70" font-size="7.15" text-anchor="start" font-weight="normal" fill="#222" stroke="#222" stroke-width="0.08">0, n=&#160; 8</text>
<line x1="325.90" y1="337.80" x2="335.30" y2="337.80" stroke="#4a9a4a" stroke-width="1.3"/>
<line x1="330.60" y1="336.40" x2="330.60" y2="339.20" stroke="#4a9a4a" stroke-width="0.9"/>
<text x="339.70" y="340.60" font-size="7.15" text-anchor="start" font-weight="normal" fill="#222" stroke="#222" stroke-width="0.08">1, n=15</text>
<line x1="325.90" y1="344.70" x2="335.30" y2="344.70" stroke="#4f80c4" stroke-width="1.3"/>
<line x1="330.60" y1="343.30" x2="330.60" y2="346.10" stroke="#4f80c4" stroke-width="0.9"/>
<text x="339.70" y="347.50" font-size="7.15" text-anchor="start" font-weight="normal" fill="#222" stroke="#222" stroke-width="0.08">2, n=17</text>
<line x1="325.90" y1="351.60" x2="335.30" y2="351.60" stroke="#ff4444" stroke-width="1.3"/>
<line x1="330.60" y1="350.20" x2="330.60" y2="353.00" stroke="#ff4444" stroke-width="0.9"/>
<text x="339.70" y="354.40" font-size="7.15" text-anchor="start" font-weight="normal" fill="#222" stroke="#222" stroke-width="0.08">3, n=&#160; 8</text>
<text x="384.20" y="222.30" font-size="10" text-anchor="start" font-weight="bold" fill="#111" >F</text>
<text x="410.40" y="221.60" font-size="9.6" text-anchor="start" font-weight="normal" fill="#222" >Immuno-interface score (IIS)</text>
<polyline points="410.20,236.50 410.20,266.90 420.80,266.90 420.80,297.30 425.10,297.30 425.10,327.80 446.50,327.80 446.50,358.20 446.50,358.20" fill="none" stroke="#555555" stroke-width="1.1"/>
<polyline points="406.40,236.50 406.40,245.30 410.70,245.30 410.70,254.00 415.40,254.00 415.40,262.70 420.00,262.70 420.00,271.10 456.80,271.10 456.80,282.40 461.90,282.40 461.90,292.10 513.60,292.10 513.60,309.40 513.60,309.40" fill="none" stroke="#4a9a4a" stroke-width="1.1"/>
<line x1="445.80" y1="269.90" x2="445.80" y2="272.30" stroke="#4a9a4a" stroke-width="0.75"/>
<line x1="467.60" y1="290.90" x2="467.60" y2="293.30" stroke="#4a9a4a" stroke-width="0.75"/>
<line x1="484.20" y1="290.90" x2="484.20" y2="293.30" stroke="#4a9a4a" stroke-width="0.75"/>
<line x1="487.20" y1="290.90" x2="487.20" y2="293.30" stroke="#4a9a4a" stroke-width="0.75"/>
<line x1="497.10" y1="290.90" x2="497.10" y2="293.30" stroke="#4a9a4a" stroke-width="0.75"/>
<line x1="512.00" y1="290.90" x2="512.00" y2="293.30" stroke="#4a9a4a" stroke-width="0.75"/>
<polyline points="411.50,236.50 411.50,245.90 423.80,245.90 423.80,255.00 432.20,255.00 432.20,264.50 450.50,264.50 450.50,274.90 455.60,274.90 455.60,285.20 471.80,285.20 471.80,297.20 534.40,297.20" fill="none" stroke="#4f80c4" stroke-width="1.1"/>
<line x1="449.20" y1="263.30" x2="449.20" y2="265.70" stroke="#4f80c4" stroke-width="0.75"/>
<line x1="458.40" y1="284.00" x2="458.40" y2="286.40" stroke="#4f80c4" stroke-width="0.75"/>
<line x1="494.10" y1="296.00" x2="494.10" y2="298.40" stroke="#4f80c4" stroke-width="0.75"/>
<line x1="500.30" y1="296.00" x2="500.30" y2="298.40" stroke="#4f80c4" stroke-width="0.75"/>
<line x1="518.30" y1="296.00" x2="518.30" y2="298.40" stroke="#4f80c4" stroke-width="0.75"/>
<line x1="529.80" y1="296.00" x2="529.80" y2="298.40" stroke="#4f80c4" stroke-width="0.75"/>
<line x1="534.40" y1="296.00" x2="534.40" y2="298.40" stroke="#4f80c4" stroke-width="0.75"/>
<polyline points="406.10,236.50 422.70,236.50 422.70,251.70 506.00,251.70" fill="none" stroke="#ff4444" stroke-width="1.1"/>
<line x1="426.40" y1="250.50" x2="426.40" y2="252.90" stroke="#ff4444" stroke-width="0.75"/>
<line x1="449.50" y1="250.50" x2="449.50" y2="252.90" stroke="#ff4444" stroke-width="0.75"/>
<line x1="470.60" y1="250.50" x2="470.60" y2="252.90" stroke="#ff4444" stroke-width="0.75"/>
<line x1="474.50" y1="250.50" x2="474.50" y2="252.90" stroke="#ff4444" stroke-width="0.75"/>
<line x1="478.00" y1="250.50" x2="478.00" y2="252.90" stroke="#ff4444" stroke-width="0.75"/>
<line x1="506.00" y1="250.50" x2="506.00" y2="252.90" stroke="#ff4444" stroke-width="0.75"/>
<polyline points="399.30,230.50 399.30,364.20 543.90,364.20" fill="none" stroke="#111" stroke-width="1.3"/>
<line x1="395.70" y1="236.50" x2="399.30" y2="236.50" stroke="#111" stroke-width="1.2"/>
<text x="393.00" y="239.30" font-size="7.0" text-anchor="end" font-weight="normal" fill="#222" stroke="#222" stroke-width="0.12">1.00</text>
<line x1="395.70" y1="266.93" x2="399.30" y2="266.93" stroke="#111" stroke-width="1.2"/>
<text x="393.00" y="269.73" font-size="7.0" text-anchor="end" font-weight="normal" fill="#222" stroke="#222" stroke-width="0.12">0.75</text>
<line x1="395.70" y1="297.35" x2="399.30" y2="297.35" stroke="#111" stroke-width="1.2"/>
<text x="393.00" y="300.15" font-size="7.0" text-anchor="end" font-weight="normal" fill="#222" stroke="#222" stroke-width="0.12">0.50</text>
<line x1="395.70" y1="327.77" x2="399.30" y2="327.77" stroke="#111" stroke-width="1.2"/>
<text x="393.00" y="330.57" font-size="7.0" text-anchor="end" font-weight="normal" fill="#222" stroke="#222" stroke-width="0.12">0.25</text>
<line x1="395.70" y1="358.20" x2="399.30" y2="358.20" stroke="#111" stroke-width="1.2"/>
<text x="393.00" y="361.00" font-size="7.0" text-anchor="end" font-weight="normal" fill="#222" stroke="#222" stroke-width="0.12">0.00</text>
<line x1="405.60" y1="364.20" x2="405.60" y2="367.60" stroke="#111" stroke-width="1.2"/>
<text x="405.60" y="376.40" font-size="7.0" text-anchor="middle" font-weight="normal" fill="#222" stroke="#222" stroke-width="0.12">0</text>
<line x1="427.60" y1="364.20" x2="427.60" y2="367.60" stroke="#111" stroke-width="1.2"/>
<text x="427.60" y="376.40" font-size="7.0" text-anchor="middle" font-weight="normal" fill="#222" stroke="#222" stroke-width="0.12">20</text>
<line x1="449.60" y1="364.20" x2="449.60" y2="367.60" stroke="#111" stroke-width="1.2"/>
<text x="449.60" y="376.40" font-size="7.0" text-anchor="middle" font-weight="normal" fill="#222" stroke="#222" stroke-width="0.12">40</text>
<line x1="471.60" y1="364.20" x2="471.60" y2="367.60" stroke="#111" stroke-width="1.2"/>
<text x="471.60" y="376.40" font-size="7.0" text-anchor="middle" font-weight="normal" fill="#222" stroke="#222" stroke-width="0.12">60</text>
<line x1="493.60" y1="364.20" x2="493.60" y2="367.60" stroke="#111" stroke-width="1.2"/>
<text x="493.60" y="376.40" font-size="7.0" text-anchor="middle" font-weight="normal" fill="#222" stroke="#222" stroke-width="0.12">80</text>
<line x1="515.60" y1="364.20" x2="515.60" y2="367.60" stroke="#111" stroke-width="1.2"/>
<text x="515.60" y="376.40" font-size="7.0" text-anchor="middle" font-weight="normal" fill="#222" stroke="#222" stroke-width="0.12">100</text>
<line x1="537.60" y1="364.20" x2="537.60" y2="367.60" stroke="#111" stroke-width="1.2"/>
<text x="537.60" y="376.40" font-size="7.0" text-anchor="middle" font-weight="normal" fill="#222" stroke="#222" stroke-width="0.12">120</text>
<text x="471.40" y="387.90" font-size="8.4" text-anchor="middle" font-weight="normal" fill="#1a1a1a" stroke="#222" stroke-width="0.08">Time, months</text>
<text x="405.30" y="355.40" font-size="7.5" text-anchor="start" font-weight="normal" fill="#222" stroke="#222" stroke-width="0.08">p = 0.0044</text>
<line x1="505.50" y1="330.90" x2="514.90" y2="330.90" stroke="#555555" stroke-width="1.3"/>
<line x1="510.20" y1="329.50" x2="510.20" y2="332.30" stroke="#555555" stroke-width="0.9"/>
<text x="519.30" y="333.70" font-size="7.15" text-anchor="start" font-weight="normal" fill="#222" stroke="#222" stroke-width="0.08">0, n=&#160; 4</text>
<line x1="505.50" y1="337.80" x2="514.90" y2="337.80" stroke="#4a9a4a" stroke-width="1.3"/>
<line x1="510.20" y1="336.40" x2="510.20" y2="339.20" stroke="#4a9a4a" stroke-width="0.9"/>
<text x="519.30" y="340.60" font-size="7.15" text-anchor="start" font-weight="normal" fill="#222" stroke="#222" stroke-width="0.08">1, n=14</text>
<line x1="505.50" y1="344.70" x2="514.90" y2="344.70" stroke="#4f80c4" stroke-width="1.3"/>
<line x1="510.20" y1="343.30" x2="510.20" y2="346.10" stroke="#4f80c4" stroke-width="0.9"/>
<text x="519.30" y="347.50" font-size="7.15" text-anchor="start" font-weight="normal" fill="#222" stroke="#222" stroke-width="0.08">2, n=13</text>
<line x1="505.50" y1="351.60" x2="514.90" y2="351.60" stroke="#ff4444" stroke-width="1.3"/>
<line x1="510.20" y1="350.20" x2="510.20" y2="353.00" stroke="#ff4444" stroke-width="0.9"/>
<text x="519.30" y="354.40" font-size="7.15" text-anchor="start" font-weight="normal" fill="#222" stroke="#222" stroke-width="0.08">3, n=&#160; 8</text>
</svg></body></html>
